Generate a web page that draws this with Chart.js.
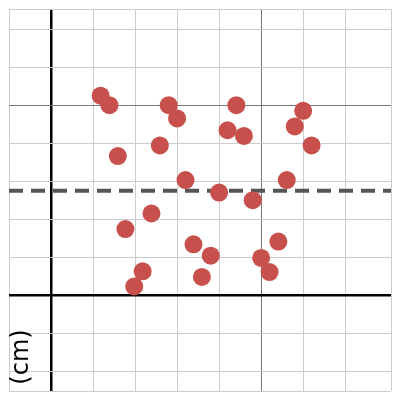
<!DOCTYPE html>
<html>
<head>
<script src="https://cdn.jsdelivr.net/npm/chart.js@4"></script>
<style>
  html, body { margin: 0; padding: 0; background: #fff; }
  #wrap { width: 400px; height: 400px; }
</style>
</head>
<body>
<div id="wrap"><canvas id="grafico" width="400" height="400"></canvas></div>
<script>
const xs = [1.18, 1.39, 1.59, 2.8, 3.0, 2.59, 3.2, 2.39, 1.77, 2.18, 1.98, 3.39, 3.8, 3.59, 4.0, 4.2, 4.41, 4.59, 4.8, 5.0, 5.2, 5.41, 5.61, 5.8, 6.0, 6.2]
const ys = [5.25, 5.0, 3.66, 5.0, 4.65, 3.94, 3.03, 2.15, 1.74, 0.63, 0.23, 1.34, 1.04, 0.48, 2.7, 4.34, 5.0, 4.19, 2.5, 0.98, 0.61, 1.41, 3.03, 4.44, 4.85, 3.94]
const meanY = 2.75
const xRange = [-1, 8.09]
const yRange = [-2.52, 7.53]

const pontos = xs.map((x, i) => ({ x: x, y: ys[i] }))

function corGrade(ctx) {
    const v = ctx.tick.value
    if (v === 0) return '#000'
    if (v % 5 === 0) return '#777'
    return '#ccc'
}
function larguraGrade(ctx) {
    return ctx.tick.value === 0 ? 2.5 : 1
}
function semEspaco(scale) {
    scale.paddingLeft = 0
    scale.paddingRight = 0
    scale.paddingTop = 0
    scale.paddingBottom = 0
    if (scale.isHorizontal()) scale.height = 0
    else scale.width = 0
}

const rotulo = {
    id: 'rotulo',
    afterDraw(chart) {
        const c = chart.ctx
        c.save()
        c.translate(22, 357)
        c.rotate(-Math.PI / 2)
        c.fillStyle = '#000'
        c.font = '24px "DejaVu Sans"'
        c.textAlign = 'center'
        c.textBaseline = 'middle'
        c.fillText('(cm)', 0, 0)
        c.restore()
    }
}

new Chart(document.getElementById('grafico'), {
    type: 'scatter',
    data: {
        datasets: [{
            data: pontos,
            backgroundColor: 'rgb(200, 80, 76)',
            borderWidth: 0,
            pointRadius: 9,
            order: 1
        }, {
            type: 'line',
            data: [{ x: xRange[0], y: meanY }, { x: xRange[1], y: meanY }],
            borderColor: '#555',
            borderWidth: 4,
            borderDash: [14, 8],
            pointRadius: 0,
            order: 2
        }]
    },
    options: {
        responsive: false,
        animation: false,
        layout: { padding: 0 },
        plugins: { legend: { display: false }, tooltip: { enabled: false } },
        scales: {
            x: {
                type: 'linear', min: xRange[0], max: xRange[1],
                ticks: { display: false, stepSize: 1, padding: 0 },
                border: { display: false },
                grid: { color: corGrade, lineWidth: larguraGrade, drawTicks: false },
                afterFit: semEspaco
            },
            y: {
                type: 'linear', min: yRange[0], max: yRange[1],
                ticks: { display: false, stepSize: 1, padding: 0 },
                border: { display: false },
                grid: { color: corGrade, lineWidth: larguraGrade, drawTicks: false },
                afterFit: semEspaco
            }
        }
    },
    plugins: [rotulo]
})
</script>
</body>
</html>
